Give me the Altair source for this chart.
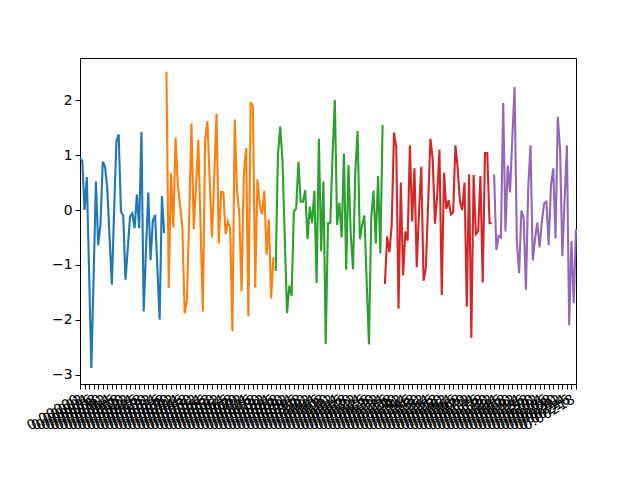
import altair as alt
import pandas as pd

series_names = ["s0", "s1", "s2", "s3", "s4"]
colors = ["#1f77b4", "#ff7f0e", "#2ca02c", "#d62728", "#9467bd"]

s0 = [0.94, 0.9, 0.0, 0.6, -1.15, -2.88, -1.2, 0.52, -0.64, -0.27, 0.88, 0.79, 0.39,
      -0.5, -1.36, 0.0, 1.25, 1.38, -0.03, -0.1, -1.27, -0.7, -0.12, -0.06, -0.33,
      0.28, -0.33, 1.42, -1.85, -0.75, 0.32, -0.91, -0.2, -0.09, -1.05, -2.0, 0.25, -0.42]
s1 = [2.52, -1.42, 0.67, -0.32, 1.32, 0.45, 0.08, -0.33, -1.88, -1.64, -0.1, 1.58,
      -0.35, 0.45, 1.28, -0.3, -1.85, 1.28, 1.62, 0.55, -0.5, 0.6, 1.76, -0.61, 0.33,
      0.32, -0.44, -0.21, -0.33, -2.21, 1.65, 0.35, -0.05, -1.48, 0.64, 1.13, -1.94,
      1.97, 1.88, -1.41, 0.56, 0.09, -0.08, 0.35, -0.81, -0.17, -1.61, -0.86]
s2 = [-1.11, 1.0, 1.52, 0.9, -0.5, -1.88, -1.38, -1.56, -0.03, 0.03, 0.88, 0.15, 0.15,
      0.36, -0.53, 0.06, -0.24, 0.35, -1.33, 1.3, -0.75, 0.52, -2.44, -0.24, -0.24,
      1.0, 2.01, -0.27, 0.13, -0.5, 1.03, -1.09, 0.82, -0.45, -1.08, 0.7, 1.44, -0.53,
      -0.27, -0.1, -1.3, -2.45, -0.15, 0.35, -0.61, 0.62, -0.79, 1.55]
s3 = [-1.35, -0.48, -0.77, -0.27, 1.41, 1.15, -1.8, 0.5, -1.19, -0.39, -0.56, 1.18,
      -0.21, 0.76, -1.04, -0.03, 0.79, -1.29, -1.06, 0.09, 1.3, 0.94, -0.25, 0.27, 1.1,
      -1.55, 0.68, 0.02, 0.18, -0.08, -0.04, 1.18, 0.76, 0.15, 0.0, 0.5, -1.76, 0.65,
      -2.33, 0.64, -0.44, -0.39, 0.62, -1.32, 1.04, 1.04, -0.24, -0.24]
s4 = [0.65, -0.73, -0.47, -0.5, 1.95, -0.39, 0.81, 0.32, 1.3, 2.24, -0.58, -1.15,
      -0.01, -0.15, -1.45, 0.4, 1.18, -0.92, -0.52, -0.23, -0.68, -0.21, 0.12, 0.15,
      -0.64, 0.45, 0.76, -0.52, 1.7, 1.1, -0.84, 0.2, 1.18, -2.1, -0.56, -1.7, -0.35]

all_series = [s0, s1, s2, s3, s4]

rows = []
idx = 0
for name, vals in zip(series_names, all_series):
    for v in vals:
        rows.append({"i": idx, "v": v, "s": name})
        idx += 1
df = pd.DataFrame(rows)
n_max = idx - 1

tick_values = list(range(0, n_max + 1, 2))
tick_labels = ["0.%05d" % t for t in tick_values]
label_array = "[" + ",".join("'%s'" % t for t in tick_labels) + "]"
label_expr = label_array + "[round(datum.value / 2)]"

y_ticks = [-3, -2, -1, 0, 1, 2]

chart = alt.Chart(df).mark_line(strokeWidth=2.1).encode(
    x=alt.X("i:Q",
            scale=alt.Scale(domain=[0, n_max], nice=False, zero=False),
            axis=alt.Axis(values=tick_values, labelExpr=label_expr, labelAngle=-30,
                          labelAlign="right", labelBaseline="top", labelOverlap=False,
                          labelFlush=False, labelBound=False, labelPadding=3,
                          labelOffset=-6,
                          title=None, grid=False, tickSize=5, tickColor="black",
                          domainColor="black", labelColor="black",
                          labelFont="DejaVu Sans", labelFontSize=13.9)),
    y=alt.Y("v:Q",
            scale=alt.Scale(domain=[-3.17, 2.77], nice=False, zero=False),
            axis=alt.Axis(values=y_ticks, title=None, grid=False, tickSize=5,
                          tickColor="black", domainColor="black", labelColor="black",
                          labelFont="DejaVu Sans", labelFontSize=13.9, labelPadding=3)),
    color=alt.Color("s:N", scale=alt.Scale(domain=series_names, range=colors), legend=None),
    order=alt.Order("i:Q"),
).properties(
    width=496, height=326,
    autosize=alt.AutoSizeParams(type="none"),
    padding={"left": 72, "top": 50, "right": 56, "bottom": 90},
).configure_view(stroke="black", strokeWidth=1).configure_axis(domainWidth=1, tickWidth=1)

chart.save("out.html", embed_options={"renderer": "svg", "actions": False})
